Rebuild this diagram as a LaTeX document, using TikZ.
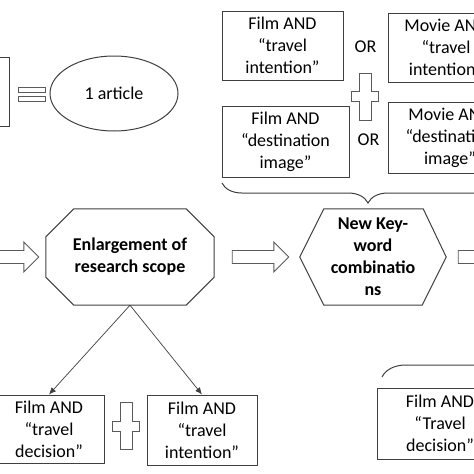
\documentclass[tikz,border=0pt]{standalone}
\usepackage{fontspec}
\setmainfont{Carlito}
\usetikzlibrary{positioning,arrows.meta,calc,shapes.geometric,decorations.pathreplacing}
\definecolor{edge}{HTML}{3F3F3F}
\definecolor{outgray}{HTML}{5A5A5A}

% hollow block arrow, shaft from #1 to tip #2 (same height)
\newcommand{\hollowarr}[2]{%
  \draw[outl] ($(#1)+(0,-6.5)$) -- ($(#2)+(-15,-6.5)$) -- ($(#2)+(-15,-15)$) -- (#2)
    -- ($(#2)+(-15,15)$) -- ($(#2)+(-15,6.5)$) -- ($(#1)+(0,6.5)$) -- cycle;}
% hollow plus sign centred at #1
\newcommand{\plussign}[1]{%
  \draw[outl, shift={(#1)}] (-6,-23.5) -- (6,-23.5) -- (6,-5) -- (13.5,-5) -- (13.5,5)
    -- (6,5) -- (6,23.5) -- (-6,23.5) -- (-6,5) -- (-13.5,5) -- (-13.5,-5) -- (-6,-5) -- cycle;}

\begin{document}
\begin{tikzpicture}[x=1pt, y=-1pt,
  font=\fontsize{18}{22}\selectfont,
  box/.style={draw=edge, line width=1pt, align=center, inner sep=0pt},
  bold/.style={font=\fontsize{18}{22}\selectfont\bfseries, align=center, inner sep=0pt},
  outline/.style={draw=edge, line width=1pt},
  arr/.style={-{Latex[length=7pt,width=6pt]}, edge, line width=0.7pt},
  outl/.style={draw=outgray, line width=0.9pt, fill=white},
  brc/.style={draw=edge, line width=1pt, decorate, decoration={brace, amplitude=#1}}
]
\useasboundingbox (0,0) rectangle (474,474);
\clip (0,0) rectangle (474,474);

% top left
\node[box, minimum width=70pt, minimum height=69pt] (prev) at (-26,91.5) {};
\node[box, ellipse, minimum width=128pt, minimum height=75pt] (art) at (114,93.5) {1 article};
\draw[outl] (18,87) rectangle (45,92);
\draw[outl] (18,96) rectangle (45,101);

% keyword boxes, top right
\node[box, minimum width=121pt, minimum height=69pt] (ftrav) at (282.5,45.5) {Film AND\\“travel\\intention”};
\node[box, minimum width=127pt, minimum height=71pt] (fdest) at (285.5,141.5) {Film AND\\“destination\\image”};
\node[box, minimum width=116pt, minimum height=69pt] (mtrav) at (446,47.5) {Movie AND\\“travel\\intention”};
\node[box, minimum width=124pt, minimum height=71pt] (mdest) at (450,137.5) {Movie AND\\“destination\\image”};
\node (or1) at ($(ftrav.east)!0.5!(mtrav.west)$) {OR};
\node (or2) at ($(fdest.east)!0.5!(mdest.west)$) {OR};
\plussign{365,96.5}

\coordinate (brR) at (514,183);
\coordinate (brL) at (222,183);
\draw[brc=20] (brR) -- (brL);

% middle row
\node[bold, minimum width=168pt, minimum height=96pt] (enl) at (130,257) {Enlargement of\\research scope};
\draw[outline] ([xshift=28pt]enl.north west) -- ([xshift=-28pt]enl.north east)
  -- ([yshift=-28pt]enl.north east) -- ([yshift=28pt]enl.south east)
  -- ([xshift=-28pt]enl.south east) -- ([xshift=28pt]enl.south west)
  -- ([yshift=28pt]enl.south west) -- ([yshift=-28pt]enl.north west) -- cycle;

\node[bold, minimum width=146pt, minimum height=96pt] (nkc) at (373,257) {New Key-\\word\\combinatio\\ns};
\draw[outline] (nkc.west) -- ([xshift=24pt]nkc.north west) -- ([xshift=-23pt]nkc.north east)
  -- (nkc.east) -- ([xshift=-24pt]nkc.south east) -- ([xshift=24pt]nkc.south west) -- cycle;

\coordinate (inL) at (-20,257);
\coordinate[left=7pt of enl.west] (tipL);
\coordinate[right=18pt of enl.east] (tailM);
\coordinate[left=11pt of nkc.west] (tipM);
\coordinate[right=12pt of nkc.east] (tailR);
\coordinate[right=50pt of nkc.east] (tipR);
\hollowarr{inL}{tipL}
\hollowarr{tailM}{tipM}
\hollowarr{tailR}{tipR}

% bottom row
\node[box, minimum width=110pt, minimum height=68pt] (ftd) at (49,429) {Film AND\\“travel\\decision”};
\node[box, minimum width=110pt, minimum height=70pt] (fti) at (202,430) {Film AND\\“travel\\intention”};
\plussign{126,426}
\node[box, minimum width=126pt, minimum height=71pt] (ftd2) at (440,423.5) {Film AND\\“Travel\\decision”};

\coordinate (br2L) at (382,377);
\coordinate (br2R) at (620,377);
\draw[brc=24] (br2L) -- (br2R);

% arrows
\draw[arr] (enl.south) -- (ftd.north);
\draw[arr] (enl.south) -- (fti.north);

\end{tikzpicture}
\end{document}
